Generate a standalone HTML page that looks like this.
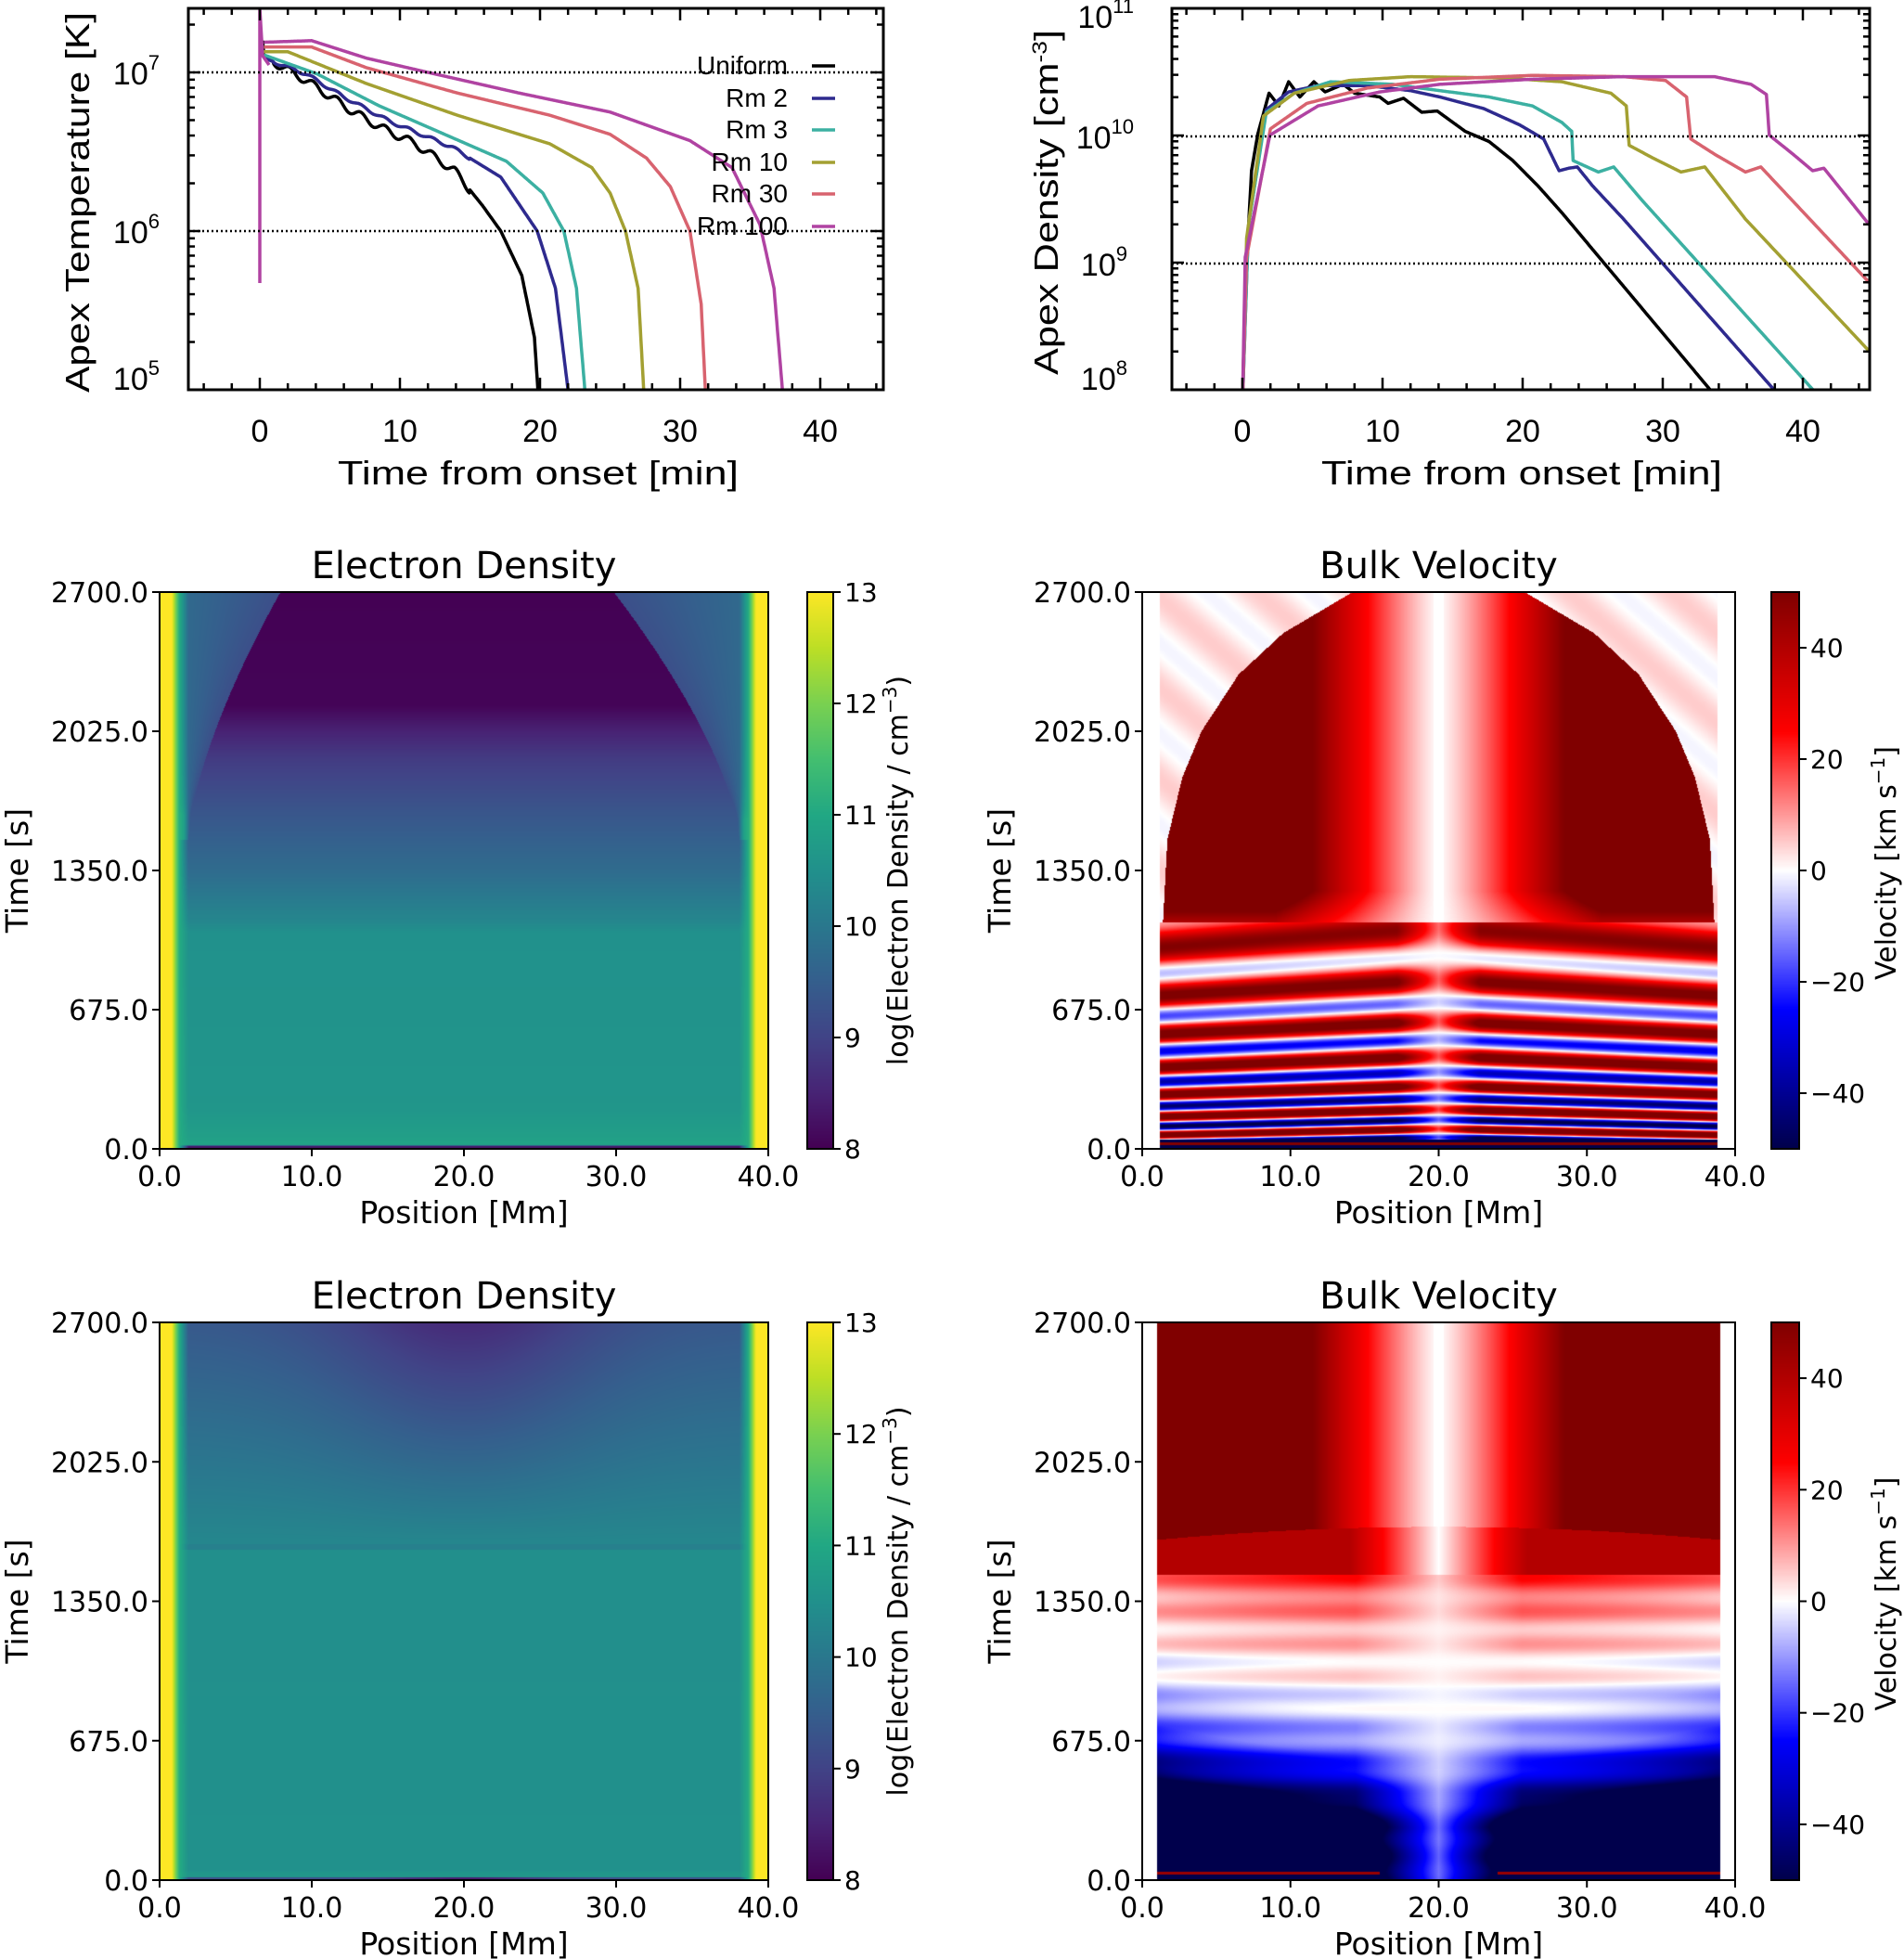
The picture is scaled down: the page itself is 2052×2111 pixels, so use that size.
<!DOCTYPE html>
<html><head><meta charset="utf-8">
<style>
html,body{margin:0;padding:0;background:#fff;}
#wrap{position:relative;width:2052px;height:2111px;overflow:hidden;background:#fff;}
canvas{position:absolute;}
svg{position:absolute;left:0;top:0;}
</style></head>
<body><div id="wrap">
<canvas id="h1" width="656" height="600" style="left:172px;top:638px"></canvas>
<canvas id="h2" width="639" height="600" style="left:1231px;top:638px"></canvas>
<canvas id="h3" width="656" height="601" style="left:172px;top:1425px"></canvas>
<canvas id="h4" width="639" height="601" style="left:1231px;top:1425px"></canvas>
<canvas id="c1" width="28" height="600" style="left:870px;top:638px"></canvas>
<canvas id="c2" width="30" height="600" style="left:1909px;top:638px"></canvas>
<canvas id="c3" width="28" height="601" style="left:870px;top:1425px"></canvas>
<canvas id="c4" width="30" height="601" style="left:1909px;top:1425px"></canvas>
<svg id="s" width="2052" height="2111" xmlns="http://www.w3.org/2000/svg">
<defs>
<clipPath id="cp1"><rect x="203" y="9" width="749" height="411"/></clipPath>
<clipPath id="cp2"><rect x="1263" y="9" width="752" height="411"/></clipPath>
</defs>
<g id="g1" clip-path="url(#cp1)"></g>
<g id="g2" clip-path="url(#cp2)"></g>
<g id="ax"></g>
<g font-family="Liberation Sans, sans-serif" fill="#000">
<g font-size="34" text-anchor="middle">
<text x="280" y="476">0</text><text x="431" y="476">10</text><text x="582" y="476">20</text><text x="733" y="476">30</text><text x="884" y="476">40</text>
<text x="1339" y="476">0</text><text x="1490" y="476">10</text><text x="1641" y="476">20</text><text x="1792" y="476">30</text><text x="1943" y="476">40</text>
</g>
<text x="580" y="522" font-size="36" text-anchor="middle" textLength="432" lengthAdjust="spacingAndGlyphs">Time from onset [min]</text>
<text x="1640" y="522" font-size="36" text-anchor="middle" textLength="432" lengthAdjust="spacingAndGlyphs">Time from onset [min]</text>
<text transform="translate(96,218) rotate(-90)" font-size="36" text-anchor="middle" textLength="410" lengthAdjust="spacingAndGlyphs">Apex Temperature [K]</text>
<text transform="translate(1140,218) rotate(-90)" font-size="36" text-anchor="middle" textLength="372" lengthAdjust="spacingAndGlyphs">Apex Density [cm<tspan dy="-12" font-size="22">-3</tspan><tspan dy="12">]</tspan></text>
<g font-size="34" text-anchor="end">
<text x="172" y="91">10<tspan dy="-16" font-size="22">7</tspan></text>
<text x="172" y="262">10<tspan dy="-16" font-size="22">6</tspan></text>
<text x="172" y="420">10<tspan dy="-16" font-size="22">5</tspan></text>
<text x="1222" y="30">10<tspan dy="-16" font-size="22">11</tspan></text>
<text x="1222" y="160">10<tspan dy="-16" font-size="22">10</tspan></text>
<text x="1215" y="297">10<tspan dy="-16" font-size="22">9</tspan></text>
<text x="1215" y="420">10<tspan dy="-16" font-size="22">8</tspan></text>
</g>
<g font-size="28" text-anchor="end">
<text x="849" y="80">Uniform</text><text x="849" y="115">Rm  2</text><text x="849" y="149">Rm  3</text>
<text x="849" y="184">Rm  10</text><text x="849" y="218">Rm  30</text><text x="849" y="253">Rm  100</text>
</g>
</g>
<g stroke-width="3.5">
<line x1="875" x2="900" y1="71" y2="71" stroke="#000"/>
<line x1="875" x2="900" y1="106" y2="106" stroke="#2e2a8e"/>
<line x1="875" x2="900" y1="140" y2="140" stroke="#3cb0a2"/>
<line x1="875" x2="900" y1="175" y2="175" stroke="#a3a032"/>
<line x1="875" x2="900" y1="209" y2="209" stroke="#d8636f"/>
<line x1="875" x2="900" y1="244" y2="244" stroke="#b043a2"/>
</g>
<g id="hm" font-family="DejaVu Sans, sans-serif" fill="#000"></g>
</svg>
</div>
<script>
var NS="http://www.w3.org/2000/svg";
function el(p,tag,a,txt){var e=document.createElementNS(NS,tag);for(var k in a)e.setAttribute(k,a[k]);if(txt!==undefined)e.textContent=txt;p.appendChild(e);return e;}
function interp(P,t){if(t<=P[0][0])return P[0][1];for(var i=1;i<P.length;i++){if(t<=P[i][0]){var a=P[i-1],b=P[i];return a[1]+(b[1]-a[1])*(t-a[0])/(b[0]-a[0]);}}return P[P.length-1][1];}
var ax=document.getElementById('ax');
function topAxes(L,R,T,B,x0,decTop,pxDec,dotted){
 el(ax,'rect',{x:L,y:T,width:R-L,height:B-T,fill:'none',stroke:'#000','stroke-width':3});
 for(var m=-4;m<=46;m+=2){var X=x0+15.1*m;if(X<L+2||X>R-2)continue;var len=(m%10==0)?13:7;
  el(ax,'line',{x1:X,x2:X,y1:B,y2:B-len,stroke:'#000','stroke-width':2.5});
  el(ax,'line',{x1:X,x2:X,y1:T,y2:T+len,stroke:'#000','stroke-width':2.5});}
 for(var d=0;d<8;d++){for(var k=1;k<10;k++){var Y=decTop-(Math.log10(k)+d)*pxDec;
  if(Y<T+1||Y>B)continue;var len=(k==1)?13:7;
  el(ax,'line',{x1:L,x2:L+len,y1:Y,y2:Y,stroke:'#000','stroke-width':2.5});
  el(ax,'line',{x1:R,x2:R-len,y1:Y,y2:Y,stroke:'#000','stroke-width':2.5});}}
 dotted.forEach(function(Y){el(ax,'line',{x1:L,x2:R,y1:Y,y2:Y,stroke:'#000','stroke-width':2.5,'stroke-dasharray':'2,3'});});
}
topAxes(203,952,9,420,280,420,171,[78,249]);
topAxes(1263,2015,9,420,1339,420,137,[147,284]);
function curve(g,P,col,X,Y,wig,w0,w1){var s='';for(var t=P[0][0];t<=P[P.length-1][0]+1e-6;t+=0.05){var L=interp(P,t);if(wig&&t>w0&&t<w1)L+=wig*Math.sin(2*Math.PI*t/1.7);s+=(s?' L':'M')+X(t).toFixed(1)+' '+Y(L).toFixed(1);}
 el(g,'path',{d:s,fill:'none',stroke:col,'stroke-width':3.5,'stroke-linejoin':'round'});}
var g1=document.getElementById('g1');
var XT=function(t){return 280+15.1*t;},YT=function(L){return 78+(7-L)*171;};
var T=[
['#000',[[0.2,7.2],[0.3,7.1],[3.3,6.95],[5,6.85],[6.7,6.75],[8.7,6.65],[11.1,6.55],[13.9,6.38],[15.9,6.16],[17.2,6.0],[18.7,5.72],[19.6,5.33],[20.0,4.8]],0.025,1,15],
['#2e2a8e',[[0.3,7.09],[3.3,6.99],[5.9,6.85],[9.3,6.69],[13.7,6.53],[17.2,6.34],[19.8,6.0],[21.1,5.64],[22.0,5.0],[22.1,4.8]],0.01,1,15],
['#3cb0a2',[[0.3,7.11],[4.1,6.99],[8.5,6.79],[13.7,6.59],[17.6,6.44],[20.2,6.24],[21.7,6.0],[22.6,5.64],[23.2,5.0],[23.3,4.8]],0,0,0],
['#a3a032',[[0.3,7.13],[2,7.13],[7.6,6.93],[14.1,6.73],[20.7,6.55],[23.7,6.4],[25,6.24],[26.1,6.0],[27,5.64],[27.4,5.0],[27.5,4.8]],0,0,0],
['#d8636f',[[0.3,7.16],[3.7,7.16],[7.6,7.03],[14.1,6.87],[20.7,6.73],[25,6.61],[27.6,6.46],[29.3,6.28],[30.7,6.0],[31.5,5.54],[31.8,5.0],[31.9,4.8]],0,0,0],
['#b043a2',[[0.3,7.19],[3.7,7.2],[7.6,7.09],[12,7.0],[18.5,6.87],[25,6.75],[30.7,6.57],[33.7,6.4],[35.7,6.04],[36.7,5.64],[37.3,5.0],[37.4,4.8]],0,0,0]];
T.forEach(function(s){curve(g1,s[1],s[0],XT,YT,s[2],s[3],s[4]);});
el(g1,'path',{d:'M280 9 L280 305 M280 9 L283 60 L290 70',fill:'none',stroke:'#b043a2','stroke-width':3.5});
var g2=document.getElementById('g2');
var XD=function(t){return 1339+15.1*t;},YD=function(L){return 147+(10-L)*137;};
var D=[
['#000',[[0,7.9],[0.2,8.8],[0.65,9.73],[1.1,10.02],[1.9,10.34],[2.6,10.24],[3.3,10.43],[4.1,10.31],[5.1,10.43],[5.9,10.35],[7.2,10.41],[8.0,10.34],[9.8,10.31],[10.4,10.26],[11.5,10.3],[12.8,10.19],[13.9,10.2],[15.9,10.04],[17.6,9.96],[19.3,9.81],[21.1,9.61],[22.8,9.40],[34.2,7.9]]],
['#2e2a8e',[[0,7.9],[0.43,9.3],[1.7,10.21],[3.3,10.35],[5.4,10.4],[8.9,10.4],[12,10.36],[14.1,10.31],[17.2,10.22],[19.8,10.09],[21.5,9.98],[22.6,9.73],[23.3,9.75],[23.9,9.76],[25,9.61],[27.2,9.35],[38.8,7.9]]],
['#3cb0a2',[[0,7.9],[0.43,9.3],[1.7,10.19],[3.7,10.34],[6.3,10.43],[10.7,10.41],[14.1,10.36],[17.6,10.31],[20.7,10.24],[22.8,10.11],[23.5,10.04],[23.6,9.81],[25.4,9.72],[26.5,9.76],[28.5,9.5],[41.6,7.9]]],
['#a3a032',[[0,7.9],[0.3,9.2],[1.5,10.16],[3.7,10.34],[7.6,10.44],[12,10.47],[18.5,10.46],[22.8,10.43],[26.3,10.34],[27.4,10.24],[27.6,9.93],[29.3,9.83],[31.3,9.72],[33,9.76],[35.9,9.35],[45,8.28]]],
['#d8636f',[[0,7.9],[0.3,9.05],[2,10.06],[4.6,10.26],[8.9,10.38],[14.1,10.45],[20.7,10.48],[27.2,10.47],[30.2,10.44],[31.7,10.31],[32,9.98],[33.7,9.86],[35.9,9.72],[37,9.76],[45,8.82]]],
['#b043a2',[[0,7.9],[0.2,9.05],[1.96,10.01],[5.4,10.24],[9.8,10.35],[14.1,10.41],[20.7,10.45],[27.2,10.47],[33.7,10.47],[36.3,10.41],[37.4,10.33],[37.6,10.01],[39.3,9.86],[40.7,9.73],[41.5,9.75],[45,9.27]]]];
D.forEach(function(s){curve(g2,s[1],s[0],XD,YD,0,0,0);});

var VIR=[[68,1,84],[72,36,117],[65,68,135],[53,95,141],[42,120,142],[33,145,140],[34,168,132],[68,191,112],[122,209,81],[189,223,38],[253,231,37]];
function cmap(S,u){u=Math.max(0,Math.min(1,u));var n=S.length-1,f=u*n,i=Math.min(n-1,Math.floor(f)),r=f-i,a=S[i],b=S[i+1];return [a[0]+(b[0]-a[0])*r,a[1]+(b[1]-a[1])*r,a[2]+(b[2]-a[2])*r];}
var SEI=[[0,0,76],[0,0,255],[255,255,255],[255,0,0],[128,0,0]];
function draw(id,W,H,fn,S,lo,hi){var c=document.getElementById(id),ctx=c.getContext('2d'),im=ctx.createImageData(W,H),d=im.data;
 for(var j=0;j<H;j++){var t=2700*(1-(j+0.5)/H);for(var i=0;i<W;i++){var x=40*(i+0.5)/W;var v=fn(x,t);var col=cmap(S,(v-lo)/(hi-lo));var k=4*(j*W+i);d[k]=col[0];d[k+1]=col[1];d[k+2]=col[2];d[k+3]=255;}}
 ctx.putImageData(im,0,0);}
function cbar(id,W,H,S){var c=document.getElementById(id),ctx=c.getContext('2d');for(var j=0;j<H;j++){var col=cmap(S,1-j/(H-1));ctx.fillStyle='rgb('+(col[0]|0)+','+(col[1]|0)+','+(col[2]|0)+')';ctx.fillRect(0,j,W,1);}}
function edgeVal(d,I){if(d<0.8)return 13;if(d<1.3)return 13-(d-0.8)/0.5*1.9;if(d<1.9)return 11.1+(I-11.1)*(d-1.3)/0.6;return I;}
var I1=[[0,8.3],[12,8.3],[20,10.9],[60,10.8],[200,10.6],[1050,10.5],[1100,10.3],[1350,9.75],[1650,9.3],[1900,8.85],[2050,8.4],[2150,8.05],[2700,8.0]];
function dens1(x,t){var d=Math.min(x,40-x);var I=interp(I1,t);
 if(t>1500){var right=x>20;var f=(t-1500)/1200;var xb=1.9+Math.sqrt(f)*(right?7.5:5.5)*f*1.1;if(d<xb){var s=9.7-0.5*(d-1.9)/Math.max(0.2,xb-1.9);I=Math.max(I,s);}}
 return edgeVal(d,I);}
function dens2(x,t){var d=Math.min(x,40-x);var a=Math.abs(x-20);var I;
 if(t<12)I=9.2-0.8*Math.exp(-a*a/30);else if(t<40)I=10.6;else if(t<1600)I=10.5-0.05*t/1600;
 else if(t<1625)I=10.15;else{var f=(t-1625)/1075;I=10.3-f*(0.9+0.8*Math.exp(-a*a/81));}
 return edgeVal(d,I);}
function hw1(t){return interp([[1100,18.6],[1500,18.3],[1800,17.3],[2025,16],[2300,13.5],[2500,10.5],[2700,5.8]],t);}
function vel1(x,t){var d=Math.min(x,40-x);if(d<1.2)return 0;var a=Math.abs(x-20);
 if(t>1100){if(a<hw1(t)){if(a<0.35)return 0;var v=68*Math.pow(Math.min(1,a/11),1.2);if(t<1250)v*=0.6+0.4*(t-1100)/150;return v;}return 3*Math.sin(0.9*x+t/70)+2;}
 if(t<18)return -70; if(t<30)return 60; if(t<45)return -70;
 var w=Math.min(1,0.3+a/4);var m=4+24*(t/1100);var A=interp([[0,65],[400,45],[1100,20]],t);
 var P=interp([[0,70],[500,110],[1100,150]],t);
 return (m+A*Math.sin(2*Math.PI*t/P+0.12*a))*w;}
var G2=[[0,-75],[250,-70],[400,-42],[600,-16],[800,-4],[1000,3],[1200,9],[1400,18],[1500,26]];
function vel2(x,t){var d=Math.min(x,40-x);if(d<1.0)return 0;var a=Math.abs(x-20);
 var tb=1640+70*(1-(a/20)*(a/20));
 if(t>tb){if(a<0.35)return 0;return 68*Math.pow(Math.min(1,a/11),1.2);}
 if(t>1480)return 40*Math.min(1,a/6);
 if(t>28&&t<42&&a>4)return 45;
 var te=t-170*(a/20)*(a/20);var w=Math.min(1,0.2+a/7);
 return (interp(G2,te)+4*Math.sin(t/25))*w;}
draw('h1',656,600,dens1,VIR,8,13);
draw('h3',656,601,dens2,VIR,8,13);
draw('h2',639,600,vel1,SEI,-50,50);
draw('h4',639,601,vel2,SEI,-50,50);
cbar('c1',28,600,VIR);cbar('c3',28,601,VIR);cbar('c2',30,600,SEI);cbar('c4',30,601,SEI);

var hm=document.getElementById('hm');
function hax(L,R,T,B,cL,cR,title,isVel){
 el(hm,'rect',{x:L,y:T,width:R-L,height:B-T,fill:'none',stroke:'#000','stroke-width':2});
 el(hm,'rect',{x:cL,y:T,width:cR-cL,height:B-T,fill:'none',stroke:'#000','stroke-width':2});
 el(hm,'text',{x:(L+R)/2,y:T-15,'font-size':40,'text-anchor':'middle'},title);
 var yl=['0.0','675.0','1350.0','2025.0','2700.0'];
 for(var i=0;i<5;i++){var Y=B-(B-T)*i/4;el(hm,'line',{x1:L-8,x2:L,y1:Y,y2:Y,stroke:'#000','stroke-width':2});
  el(hm,'text',{x:L-12,y:Y+11,'font-size':30,'text-anchor':'end'},yl[i]);
  var X=L+(R-L)*i/4;el(hm,'line',{x1:X,x2:X,y1:B,y2:B+8,stroke:'#000','stroke-width':2});
  el(hm,'text',{x:X,y:B+40,'font-size':30,'text-anchor':'middle'},(i*10).toFixed(1));}
 el(hm,'text',{x:(L+R)/2,y:B+80,'font-size':33,'text-anchor':'middle'},'Position [Mm]');
 el(hm,'text',{transform:'translate('+(L-142)+','+((T+B)/2)+') rotate(-90)','font-size':33,'text-anchor':'middle'},'Time [s]');
 if(!isVel){for(var k=0;k<=5;k++){var Y=B-(B-T)*k/5;el(hm,'line',{x1:cR,x2:cR+8,y1:Y,y2:Y,stroke:'#000','stroke-width':2});el(hm,'text',{x:cR+12,y:Y+10,'font-size':28},String(8+k));}
  var t=el(hm,'text',{transform:'translate('+(cR+80)+','+((T+B)/2)+') rotate(-90)','font-size':30,'text-anchor':'middle'},'log(Electron Density / cm');
  el(t,'tspan',{dy:-12,'font-size':20},'\u22123');el(t,'tspan',{dy:12},')');}
 else{var vals=[-40,-20,0,20,40];vals.forEach(function(v){var Y=B-(B-T)*(v+50)/100;el(hm,'line',{x1:cR,x2:cR+8,y1:Y,y2:Y,stroke:'#000','stroke-width':2});el(hm,'text',{x:cR+12,y:Y+10,'font-size':28},v<0?'\u2212'+(-v):String(v));});
  var t=el(hm,'text',{transform:'translate('+(cR+104)+','+((T+B)/2-8)+') rotate(-90)','font-size':30,'text-anchor':'middle'},'Velocity [km s');
  el(t,'tspan',{dy:-12,'font-size':20},'\u22121');el(t,'tspan',{dy:12},']');}
}
hax(172,828,638,1238,870,898,'Electron Density',false);
hax(1231,1870,638,1238,1909,1939,'Bulk Velocity',true);
hax(172,828,1425,2026,870,898,'Electron Density',false);
hax(1231,1870,1425,2026,1909,1939,'Bulk Velocity',true);
</script>
</body></html>
